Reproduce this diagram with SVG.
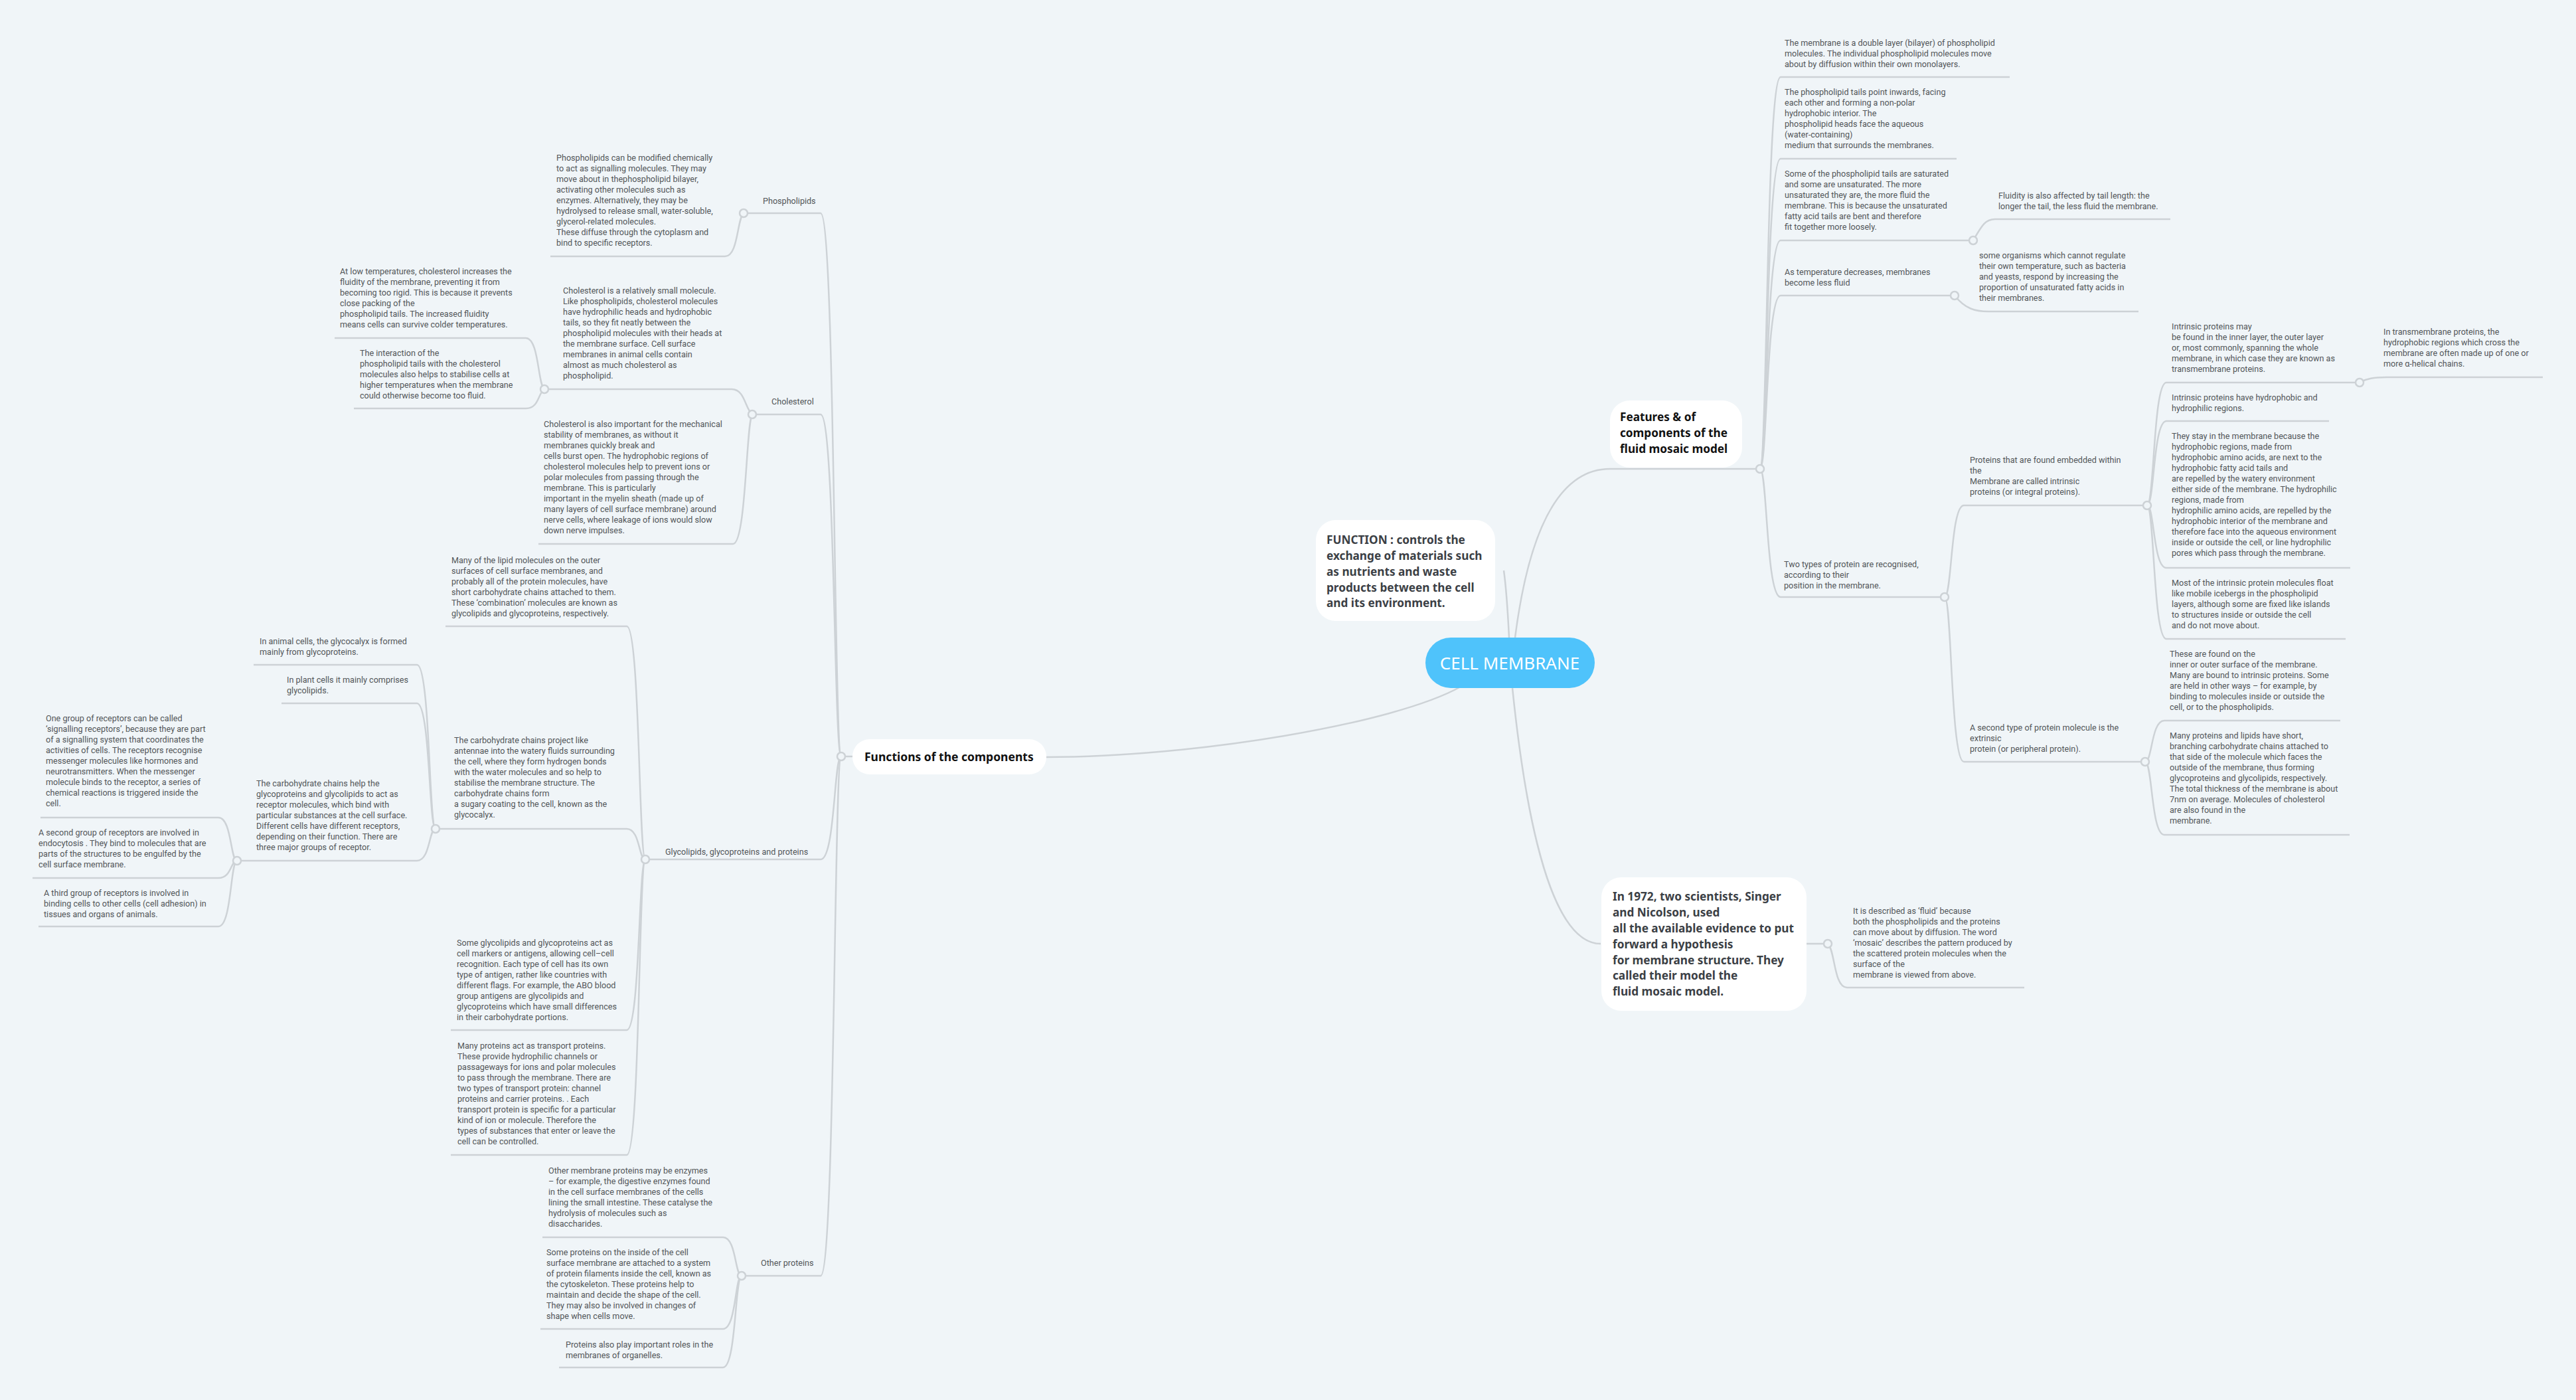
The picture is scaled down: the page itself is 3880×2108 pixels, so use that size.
<svg xmlns="http://www.w3.org/2000/svg" width="3880" height="2108" viewBox="0 0 3880 2108">
<style>
.c{fill:none;stroke:#cdd2d6;stroke-width:2.5}
.j{fill:#f0f5f8;stroke:#cdd2d6;stroke-width:2.5}
.t{font-family:Roboto,"Liberation Sans",sans-serif;font-size:12.6px;fill:#525659}
.b{font-family:"Noto Sans","Liberation Sans",sans-serif;font-weight:bold;font-size:17.2px;fill:#3b4045}
.n{fill:#ffffff}
</style>
<rect width="3880" height="2108" fill="#f0f5f8"/>
<g id="connectors">
<path class="c" d="M2282 960 C2300 820 2340 706 2425 706 L2651 706"/>
<path class="c" d="M2273 960 C2270 900 2268 880 2265 859"/>
<path class="c" d="M2278 1036 C2300 1250 2340 1421 2411 1421"/>
<path class="c" d="M2200 1034 C2100 1090 1800 1140 1576 1140 M1284 1139 L1267 1139"/>
<path class="c" d="M2721 1421 L2753 1421"/>
<path class="c" d="M2651 706 C2662 706 2660 116 2682 116 L3027 116"/>
<path class="c" d="M2651 706 C2662 706 2660 239 2682 239 L2947 239"/>
<path class="c" d="M2651 706 C2662 706 2660 362 2682 362 L2972 362"/>
<path class="c" d="M2651 706 C2662 706 2660 445 2682 445 L2944 445"/>
<path class="c" d="M2651 706 C2662 706 2660 899 2682 899 L2929 899"/>
<path class="c" d="M2972 362 C2985 340 2990 330 3005 330 L3269 330"/>
<path class="c" d="M2944 445 C2960 465 2975 469 2995 469 L3221 469"/>
<path class="c" d="M2929 899 C2940 899 2938 761 2958 761 L3234 761"/>
<path class="c" d="M2929 899 C2940 899 2938 1147 2958 1147 L3231 1147"/>
<path class="c" d="M3234 761 C3245 761 3243 576 3263 576 L3554 576"/>
<path class="c" d="M3234 761 C3245 761 3243 634 3263 634 L3508 634"/>
<path class="c" d="M3234 761 C3245 761 3243 855 3263 855 L3540 855"/>
<path class="c" d="M3234 761 C3245 761 3243 962 3263 962 L3533 962"/>
<path class="c" d="M3554 576 C3565 570 3575 568 3595 568 L3830 568"/>
<path class="c" d="M3231 1147 C3242 1147 3240 1085 3260 1085 L3525 1085"/>
<path class="c" d="M3231 1147 C3242 1147 3240 1257 3260 1257 L3539 1257"/>
<path class="c" d="M2753 1421 C2764 1430 2762 1487 2782 1487 L3049 1487"/>
<path class="c" d="M1267 1139 C1256 1139 1258 321 1236 321 L1120 321"/>
<path class="c" d="M1267 1139 C1256 1139 1258 624 1236 624 L1133 624"/>
<path class="c" d="M1267 1139 C1256 1139 1258 1294 1236 1294 L972 1294"/>
<path class="c" d="M1267 1139 C1256 1139 1258 1921 1236 1921 L1117 1921"/>
<path class="c" d="M1120 321 C1110 330 1112 386 1092 386 L829 386"/>
<path class="c" d="M1133 624 C1122 615 1122 586 1102 586 L820 586"/>
<path class="c" d="M1133 624 C1124 634 1124 819 1104 819 L811 819"/>
<path class="c" d="M820 586 C810 580 812 509 792 509 L504 509"/>
<path class="c" d="M820 586 C810 592 812 615 792 615 L533 615"/>
<path class="c" d="M972 1294 C962 1294 964 943 944 943 L671 943"/>
<path class="c" d="M972 1294 C962 1294 964 1248 944 1248 L656 1248"/>
<path class="c" d="M972 1294 C962 1294 964 1551 944 1551 L679 1551"/>
<path class="c" d="M972 1294 C962 1294 964 1739 944 1739 L679 1739"/>
<path class="c" d="M656 1248 C646 1248 648 1001 628 1001 L382 1001"/>
<path class="c" d="M656 1248 C646 1248 648 1059 628 1059 L424 1059"/>
<path class="c" d="M656 1248 C646 1248 648 1296 628 1296 L357 1296"/>
<path class="c" d="M357 1296 C347 1296 349 1231 329 1231 L61 1231"/>
<path class="c" d="M357 1296 C347 1296 349 1322 329 1322 L49 1322"/>
<path class="c" d="M357 1296 C347 1296 349 1395 329 1395 L58 1395"/>
<path class="c" d="M1117 1921 C1107 1921 1109 1863 1089 1863 L817 1863"/>
<path class="c" d="M1117 1921 C1107 1921 1109 2001 1089 2001 L814 2001"/>
<path class="c" d="M1117 1921 C1107 1921 1109 2059 1089 2059 L842 2059"/>
<g>
<circle class="j" cx="2651" cy="706" r="6"/><circle class="j" cx="2972" cy="362" r="6"/><circle class="j" cx="2944" cy="445" r="6"/><circle class="j" cx="2929" cy="899" r="6"/><circle class="j" cx="3234" cy="761" r="6"/><circle class="j" cx="3554" cy="576" r="6"/><circle class="j" cx="3231" cy="1147" r="6"/><circle class="j" cx="2753" cy="1421" r="6"/><circle class="j" cx="1267" cy="1139" r="6"/><circle class="j" cx="1120" cy="321" r="6"/><circle class="j" cx="1133" cy="624" r="6"/><circle class="j" cx="820" cy="586" r="6"/><circle class="j" cx="972" cy="1294" r="6"/><circle class="j" cx="656" cy="1248" r="6"/><circle class="j" cx="357" cy="1296" r="6"/><circle class="j" cx="1117" cy="1921" r="6"/>
</g>
</g>
<g id="center">
<rect x="2147" y="960" width="255" height="76" rx="38" fill="#4fc3fb"/>
<text x="2274" y="1008" text-anchor="middle" font-family="'Noto Sans','Liberation Sans',sans-serif" font-size="26" fill="#ffffff">CELL MEMBRANE</text>
</g>
<g id="function">
<rect class="n" x="1982" y="783" width="270" height="152" rx="30"/>
<text class="b"><tspan x="1998" y="819">FUNCTION : controls the</tspan><tspan x="1998" y="843">exchange of materials such</tspan><tspan x="1998" y="867">as nutrients and waste</tspan><tspan x="1998" y="891">products between the cell</tspan><tspan x="1998" y="914">and its environment.</tspan></text>
</g>
<g id="features">
<rect class="n" x="2425" y="603" width="199" height="101" rx="30"/>
<text class="b" style="fill:#111"><tspan x="2440" y="634">Features &amp; of</tspan><tspan x="2440" y="658">components  of the</tspan><tspan x="2440" y="682">fluid mosaic model</tspan></text>
</g>
<g id="singer">
<rect class="n" x="2412" y="1321" width="309" height="201" rx="30"/>
<text class="b"><tspan x="2429" y="1356">In 1972, two scientists, Singer</tspan><tspan x="2429" y="1380">and Nicolson, used</tspan><tspan x="2429" y="1404">all the available evidence to put</tspan><tspan x="2429" y="1428">forward a hypothesis</tspan><tspan x="2429" y="1452">for membrane structure. They</tspan><tspan x="2429" y="1475">called their model the</tspan><tspan x="2429" y="1499">fluid mosaic model.</tspan></text>
</g>
<g id="functions-comp">
<rect class="n" x="1284" y="1113" width="292" height="53" rx="26"/>
<text class="b" x="1302" y="1146" style="font-size:17.5px;fill:#111">Functions of the components</text>
</g>
<g id="right-leaves">
<text class="t"><tspan x="2688" y="69">The membrane is a double layer (bilayer) of phospholipid</tspan><tspan x="2688" y="85">molecules.  The individual phospholipid molecules move</tspan><tspan x="2688" y="101">about by diffusion within their own monolayers.</tspan></text>
<text class="t"><tspan x="2688" y="143">The phospholipid tails point inwards, facing</tspan><tspan x="2688" y="159">each other and forming a non-polar</tspan><tspan x="2688" y="175">hydrophobic interior. The</tspan><tspan x="2688" y="191">phospholipid heads face the aqueous</tspan><tspan x="2688" y="207">(water-containing)</tspan><tspan x="2688" y="223">medium that surrounds the membranes.</tspan></text>
<text class="t"><tspan x="2688" y="266">Some of the phospholipid tails are saturated</tspan><tspan x="2688" y="282">and some are unsaturated. The more</tspan><tspan x="2688" y="298">unsaturated they are, the more fluid the</tspan><tspan x="2688" y="314">membrane. This is because the unsaturated</tspan><tspan x="2688" y="330">fatty acid tails are bent  and therefore</tspan><tspan x="2688" y="346">fit together more loosely.</tspan></text>
<text class="t"><tspan x="3010" y="299">Fluidity is also affected by tail length: the</tspan><tspan x="3010" y="315">longer the tail, the less fluid the membrane.</tspan></text>
<text class="t"><tspan x="2688" y="414">As temperature decreases, membranes</tspan><tspan x="2688" y="430">become less fluid</tspan></text>
<text class="t"><tspan x="2981" y="389">some organisms which cannot regulate</tspan><tspan x="2981" y="405">their own temperature, such as bacteria</tspan><tspan x="2981" y="421">and yeasts, respond by increasing the</tspan><tspan x="2981" y="437">proportion of unsaturated fatty acids in</tspan><tspan x="2981" y="453">their membranes.</tspan></text>
<text class="t"><tspan x="2687" y="854">Two types of protein are recognised,</tspan><tspan x="2687" y="870">according to their</tspan><tspan x="2687" y="886">position in the membrane.</tspan></text>
<text class="t"><tspan x="2967" y="697">Proteins that are found embedded within</tspan><tspan x="2967" y="713">the</tspan><tspan x="2967" y="729">Membrane are called intrinsic</tspan><tspan x="2967" y="745">proteins (or integral proteins).</tspan></text>
<text class="t"><tspan x="3271" y="496">Intrinsic proteins may</tspan><tspan x="3271" y="512">be found in the inner layer, the outer layer</tspan><tspan x="3271" y="528">or, most commonly, spanning the whole</tspan><tspan x="3271" y="544">membrane, in which case they are known as</tspan><tspan x="3271" y="560">transmembrane proteins.</tspan></text>
<text class="t"><tspan x="3590" y="504">In transmembrane proteins, the</tspan><tspan x="3590" y="520">hydrophobic regions which cross the</tspan><tspan x="3590" y="536">membrane are often made up of one or</tspan><tspan x="3590" y="552">more α-helical chains.</tspan></text>
<text class="t"><tspan x="3271" y="603">Intrinsic proteins have hydrophobic and</tspan><tspan x="3271" y="619">hydrophilic regions.</tspan></text>
<text class="t"><tspan x="3271" y="661">They stay in the membrane because the</tspan><tspan x="3271" y="677">hydrophobic regions, made from</tspan><tspan x="3271" y="693">hydrophobic amino acids, are next to the</tspan><tspan x="3271" y="709">hydrophobic fatty acid tails and</tspan><tspan x="3271" y="725">are repelled by the watery environment</tspan><tspan x="3271" y="741">either side of the membrane. The hydrophilic</tspan><tspan x="3271" y="757">regions, made from</tspan><tspan x="3271" y="773">hydrophilic amino acids, are repelled by the</tspan><tspan x="3271" y="789">hydrophobic interior of the membrane and</tspan><tspan x="3271" y="805">therefore face into the aqueous environment</tspan><tspan x="3271" y="821">inside or outside the cell, or line hydrophilic</tspan><tspan x="3271" y="837">pores which pass through the membrane.</tspan></text>
<text class="t"><tspan x="3271" y="882">Most of the intrinsic protein molecules float</tspan><tspan x="3271" y="898">like mobile icebergs in the phospholipid</tspan><tspan x="3271" y="914">layers, although some are fixed like islands</tspan><tspan x="3271" y="930">to structures inside or outside the cell</tspan><tspan x="3271" y="946">and do not move about.</tspan></text>
<text class="t"><tspan x="2967" y="1100">A second type of protein molecule is the</tspan><tspan x="2967" y="1116">extrinsic</tspan><tspan x="2967" y="1132">protein (or peripheral protein).</tspan></text>
<text class="t"><tspan x="3268" y="989">These are found on the</tspan><tspan x="3268" y="1005">inner or outer surface of the membrane.</tspan><tspan x="3268" y="1021">Many are bound to intrinsic proteins. Some</tspan><tspan x="3268" y="1037">are held in other ways – for example, by</tspan><tspan x="3268" y="1053">binding to molecules inside or outside the</tspan><tspan x="3268" y="1069">cell, or to the phospholipids.</tspan></text>
<text class="t"><tspan x="3268" y="1112">Many proteins and lipids have short,</tspan><tspan x="3268" y="1128">branching carbohydrate chains attached to</tspan><tspan x="3268" y="1144">that side of the molecule which faces the</tspan><tspan x="3268" y="1160">outside of the membrane, thus forming</tspan><tspan x="3268" y="1176">glycoproteins and glycolipids, respectively.</tspan><tspan x="3268" y="1192">The total thickness of the membrane is about</tspan><tspan x="3268" y="1208">7nm on average. Molecules of cholesterol</tspan><tspan x="3268" y="1224">are also found in the</tspan><tspan x="3268" y="1240">membrane.</tspan></text>
<text class="t"><tspan x="2791" y="1376">It is described as ‘fluid’ because</tspan><tspan x="2791" y="1392">both the phospholipids and the proteins</tspan><tspan x="2791" y="1408">can move about by diffusion. The word</tspan><tspan x="2791" y="1424">‘mosaic’ describes the pattern produced by</tspan><tspan x="2791" y="1440">the scattered protein molecules when the</tspan><tspan x="2791" y="1456">surface of the</tspan><tspan x="2791" y="1472">membrane is viewed from above.</tspan></text>
</g>
<g id="left-leaves">
<text class="t" x="1149" y="307">Phospholipids</text>
<text class="t" x="1162" y="609">Cholesterol</text>
<text class="t" x="1002" y="1287">Glycolipids, glycoproteins and proteins</text>
<text class="t" x="1146" y="1906">Other proteins</text>
<text class="t"><tspan x="838" y="242">Phospholipids can be modified chemically</tspan><tspan x="838" y="258">to act as signalling molecules. They may</tspan><tspan x="838" y="274">move about in thephospholipid bilayer,</tspan><tspan x="838" y="290">activating other molecules such as</tspan><tspan x="838" y="306">enzymes. Alternatively, they may be</tspan><tspan x="838" y="322">hydrolysed to release small, water-soluble,</tspan><tspan x="838" y="338">glycerol-related molecules.</tspan><tspan x="838" y="354">These diffuse through the cytoplasm and</tspan><tspan x="838" y="370">bind to specific receptors.</tspan></text>
<text class="t"><tspan x="848" y="442">Cholesterol is a relatively small molecule.</tspan><tspan x="848" y="458">Like phospholipids, cholesterol molecules</tspan><tspan x="848" y="474">have hydrophilic heads and hydrophobic</tspan><tspan x="848" y="490">tails, so they fit neatly between the</tspan><tspan x="848" y="506">phospholipid molecules with their heads at</tspan><tspan x="848" y="522">the membrane surface. Cell surface</tspan><tspan x="848" y="538">membranes in animal cells contain</tspan><tspan x="848" y="554">almost as much cholesterol as</tspan><tspan x="848" y="570">phospholipid.</tspan></text>
<text class="t"><tspan x="512" y="413">At low temperatures, cholesterol increases the</tspan><tspan x="512" y="429">fluidity of the membrane, preventing it from</tspan><tspan x="512" y="445">becoming too rigid. This is because it prevents</tspan><tspan x="512" y="461">close packing of the</tspan><tspan x="512" y="477">phospholipid tails. The increased fluidity</tspan><tspan x="512" y="493">means cells can survive colder temperatures.</tspan></text>
<text class="t"><tspan x="542" y="536">The interaction of the</tspan><tspan x="542" y="552">phospholipid tails with the cholesterol</tspan><tspan x="542" y="568">molecules also helps to stabilise cells at</tspan><tspan x="542" y="584">higher temperatures when the membrane</tspan><tspan x="542" y="600">could otherwise become too fluid.</tspan></text>
<text class="t"><tspan x="819" y="643">Cholesterol is also important for the mechanical</tspan><tspan x="819" y="659">stability of membranes, as without it</tspan><tspan x="819" y="675">membranes quickly break and</tspan><tspan x="819" y="691">cells burst open. The hydrophobic regions of</tspan><tspan x="819" y="707">cholesterol molecules help to prevent ions or</tspan><tspan x="819" y="723">polar molecules from passing through the</tspan><tspan x="819" y="739">membrane. This is particularly</tspan><tspan x="819" y="755">important in the myelin sheath (made up of</tspan><tspan x="819" y="771">many layers of cell surface membrane) around</tspan><tspan x="819" y="787">nerve cells, where leakage of ions would slow</tspan><tspan x="819" y="803">down nerve impulses.</tspan></text>
<text class="t"><tspan x="680" y="848">Many of the lipid molecules on the outer</tspan><tspan x="680" y="864">surfaces of cell surface membranes, and</tspan><tspan x="680" y="880">probably all of the protein molecules, have</tspan><tspan x="680" y="896">short carbohydrate chains attached to them.</tspan><tspan x="680" y="912">These ‘combination’ molecules are known as</tspan><tspan x="680" y="928">glycolipids and glycoproteins, respectively.</tspan></text>
<text class="t"><tspan x="684" y="1119">The carbohydrate chains project like</tspan><tspan x="684" y="1135">antennae into the watery fluids surrounding</tspan><tspan x="684" y="1151">the cell, where they form hydrogen bonds</tspan><tspan x="684" y="1167">with the water molecules and so help to</tspan><tspan x="684" y="1183">stabilise the membrane structure. The</tspan><tspan x="684" y="1199">carbohydrate chains form</tspan><tspan x="684" y="1215">a sugary coating to the cell, known as the</tspan><tspan x="684" y="1231">glycocalyx.</tspan></text>
<text class="t"><tspan x="391" y="970">In animal cells, the glycocalyx is formed</tspan><tspan x="391" y="986">mainly from glycoproteins.</tspan></text>
<text class="t"><tspan x="432" y="1028">In plant cells it mainly comprises</tspan><tspan x="432" y="1044">glycolipids.</tspan></text>
<text class="t"><tspan x="386" y="1184">The carbohydrate chains help the</tspan><tspan x="386" y="1200">glycoproteins and glycolipids to act as</tspan><tspan x="386" y="1216">receptor molecules, which bind with</tspan><tspan x="386" y="1232">particular substances at the cell surface.</tspan><tspan x="386" y="1248">Different cells have different receptors,</tspan><tspan x="386" y="1264">depending on their function. There are</tspan><tspan x="386" y="1280">three major groups of receptor.</tspan></text>
<text class="t"><tspan x="69" y="1086">One group of receptors can be called</tspan><tspan x="69" y="1102">‘signalling receptors’, because they are part</tspan><tspan x="69" y="1118">of a signalling system that coordinates the</tspan><tspan x="69" y="1134">activities of cells. The receptors recognise</tspan><tspan x="69" y="1150">messenger molecules like hormones and</tspan><tspan x="69" y="1166">neurotransmitters. When the messenger</tspan><tspan x="69" y="1182">molecule binds to the receptor, a series of</tspan><tspan x="69" y="1198">chemical reactions is triggered inside the</tspan><tspan x="69" y="1214">cell.</tspan></text>
<text class="t"><tspan x="58" y="1258">A second group of receptors are involved in</tspan><tspan x="58" y="1274">endocytosis . They bind to molecules that are</tspan><tspan x="58" y="1290">parts of the structures to be engulfed by the</tspan><tspan x="58" y="1306">cell surface membrane.</tspan></text>
<text class="t"><tspan x="66" y="1349">A third group of receptors is involved in</tspan><tspan x="66" y="1365">binding cells to other cells (cell adhesion) in</tspan><tspan x="66" y="1381">tissues and organs of animals.</tspan></text>
<text class="t"><tspan x="688" y="1424">Some glycolipids and glycoproteins act as</tspan><tspan x="688" y="1440">cell markers or antigens, allowing cell–cell</tspan><tspan x="688" y="1456">recognition. Each type of cell has its own</tspan><tspan x="688" y="1472">type of antigen, rather like countries with</tspan><tspan x="688" y="1488">different flags. For example, the ABO blood</tspan><tspan x="688" y="1504">group antigens are glycolipids and</tspan><tspan x="688" y="1520">glycoproteins which have small differences</tspan><tspan x="688" y="1536">in their carbohydrate portions.</tspan></text>
<text class="t"><tspan x="689" y="1579">Many proteins act as transport proteins.</tspan><tspan x="689" y="1595">These provide hydrophilic channels or</tspan><tspan x="689" y="1611">passageways for ions and polar molecules</tspan><tspan x="689" y="1627">to pass through the membrane. There are</tspan><tspan x="689" y="1643">two types of transport protein: channel</tspan><tspan x="689" y="1659">proteins and carrier proteins. . Each</tspan><tspan x="689" y="1675">transport protein is specific for a particular</tspan><tspan x="689" y="1691">kind of ion or molecule. Therefore the</tspan><tspan x="689" y="1707">types of substances that enter or leave the</tspan><tspan x="689" y="1723">cell can be controlled.</tspan></text>
<text class="t"><tspan x="826" y="1767">Other membrane proteins may be enzymes</tspan><tspan x="826" y="1783">– for example, the digestive enzymes found</tspan><tspan x="826" y="1799">in the cell surface membranes of the cells</tspan><tspan x="826" y="1815">lining the small intestine. These catalyse the</tspan><tspan x="826" y="1831">hydrolysis of molecules such as</tspan><tspan x="826" y="1847">disaccharides.</tspan></text>
<text class="t"><tspan x="823" y="1890">Some proteins on the inside of the cell</tspan><tspan x="823" y="1906">surface membrane are attached to a system</tspan><tspan x="823" y="1922">of protein filaments inside the cell, known as</tspan><tspan x="823" y="1938">the cytoskeleton. These proteins help to</tspan><tspan x="823" y="1954">maintain and decide the shape of the cell.</tspan><tspan x="823" y="1970">They may also be involved in changes of</tspan><tspan x="823" y="1986">shape when cells move.</tspan></text>
<text class="t"><tspan x="852" y="2029">Proteins also play important roles in the</tspan><tspan x="852" y="2045">membranes of organelles.</tspan></text>
</g>
</svg>
